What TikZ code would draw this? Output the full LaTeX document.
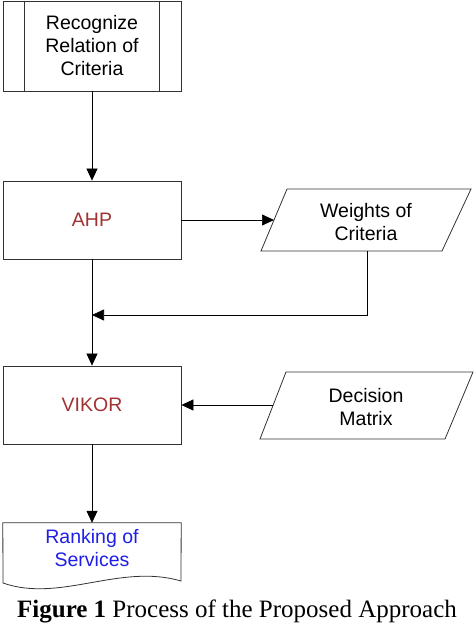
\documentclass[tikz,border=0pt]{standalone}
\usepackage{fontspec}
\setmainfont{Liberation Sans}
\newfontfamily\capfont{Liberation Serif}
\usetikzlibrary{arrows.meta}
\definecolor{edgecol}{RGB}{50,50,50}
\definecolor{redtxt}{RGB}{160,50,50}
\definecolor{bluetxt}{RGB}{30,30,230}
\tikzset{
  box/.style={draw=edgecol, line width=0.8pt, minimum width=178pt, minimum height=78pt,
    inner sep=0pt, align=center, font=\fontsize{19.5}{23}\selectfont},
  txt/.style={inner sep=0pt, align=center, font=\fontsize{19.5}{23}\selectfont},
  shp/.style={draw=edgecol, line width=0.8pt},
  conn/.style={draw=black, line width=0.7pt},
  arr/.style={conn, -{Triangle[length=12pt,width=11pt]}}
}
\begin{document}
\begin{tikzpicture}[x=1pt,y=-1pt]
\useasboundingbox (0,0) rectangle (474,623);
% top process box
\node[box, minimum height=90pt] (rec) at (92,46) {Recognize\\Relation of\\Criteria};
\draw[shp] ([xshift=22pt]rec.north west) -- ([xshift=22pt]rec.south west);
\draw[shp] ([xshift=-22pt]rec.north east) -- ([xshift=-22pt]rec.south east);
% AHP
\node[box, text=redtxt] (ahp) at (92,220) {AHP};
% Weights parallelogram
\node[txt] (wts) at (366,222) {Weights of\\Criteria};
\draw[shp] (261,251) -- (287,189) -- (471,189) -- (442,251) -- cycle;
\coordinate (wtsin) at (274,220);
\coordinate (wtsout) at (367,251);
% VIKOR
\node[box, text=redtxt] (vik) at (92,405) {VIKOR};
% Decision parallelogram
\node[txt] (dec) at (366,407) {Decision\\Matrix};
\draw[shp] (260,439) -- (286,372) -- (473,372) -- (445,439) -- cycle;
\coordinate (decin) at (273,405);
% Ranking document
\node[inner sep=0pt, minimum width=178pt, minimum height=60pt] (rank) at (92,553) {};
\node[txt, text=bluetxt] (ranktxt) at (92,548) {Ranking of\\Services};
\draw[shp] (rank.north west) -- (rank.north east) -- (181,581)
  .. controls (120,563) and (60,603) .. (3,583) -- cycle;
% join
\coordinate (join) at (92,315);
% connectors
\draw[arr] (rec.south) -- (ahp.north);
\draw[arr] (ahp.east) -- (wtsin);
\draw[conn] (ahp.south) -- (join);
\draw[arr] (wtsout) |- (join);
\draw[arr] (join) -- (vik.north);
\draw[arr] (decin) -- (vik.east);
\draw[arr] (vik.south) -- (rank.north);
% caption
\node[anchor=base, inner sep=0pt, font=\capfont\fontsize{25}{28}\selectfont] (cap) at (237,617)
  {\textbf{Figure 1} Process of the Proposed Approach};
\end{tikzpicture}
\end{document}
